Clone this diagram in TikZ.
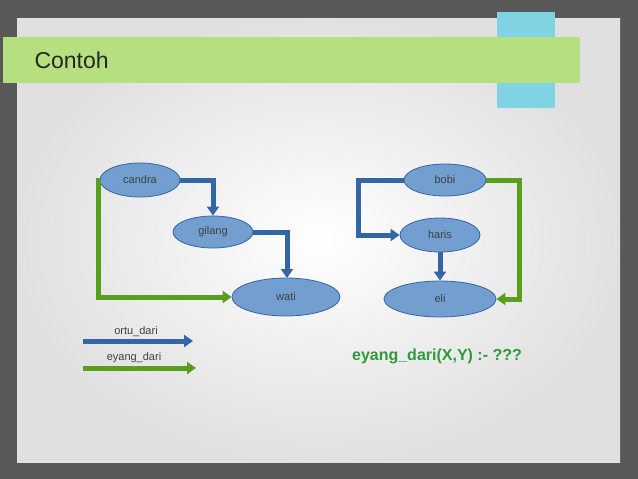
\documentclass[tikz,border=0pt]{standalone}
\usepackage{fontspec}
\setmainfont{Liberation Sans}
\usetikzlibrary{shapes.geometric,arrows.meta}
\definecolor{nodefill}{HTML}{729FCF}
\definecolor{nodeline}{HTML}{3465A4}
\definecolor{bluearr}{HTML}{3465A4}
\definecolor{greenarr}{HTML}{5A9E1E}
\definecolor{rulegreen}{HTML}{2E9A3A}
\definecolor{titlebar}{HTML}{B6E07F}
\definecolor{cyanbox}{HTML}{7FD3E3}
\tikzset{
 person/.style={ellipse,draw=nodeline,fill=nodefill,line width=0.8pt,inner sep=0pt,text=black!75,font=\fontsize{11}{13}\selectfont},
 ortu/.style={draw=bluearr,line width=5pt,-{Triangle[length=9pt,width=12pt]}},
 eyang/.style={draw=greenarr,line width=5pt,-{Triangle[length=9pt,width=12pt]}},
}
\begin{document}
\begin{tikzpicture}[x=1pt,y=-1pt]
\useasboundingbox (0,0) rectangle (638,479);
\fill[black!65] (0,0) rectangle (638,479);
\shade[inner color=white,outer color=black!12] (17,18) rectangle (620,462);
\fill[cyanbox] (497,12) rectangle (555,108);
\fill[titlebar] (3,37) rectangle (580,83);
\node[anchor=west,text=black!85,font=\fontsize{23}{27}\selectfont] (title) at (31,60) {Contoh};
\node[person,minimum width=80,minimum height=34] (candra) at (140,180) {candra};
\node[person,minimum width=80,minimum height=32] (gilang) at (213,232) {gilang};
\node[person,minimum width=108,minimum height=38] (wati) at (286,297) {wati};
\node[person,minimum width=82,minimum height=32] (bobi) at (445,180) {bobi};
\node[person,minimum width=80,minimum height=34] (haris) at (440,235) {haris};
\node[person,minimum width=112,minimum height=36] (eli) at (440,299) {eli};
\draw[eyang] (candra.west) -- (98,180) -- (98,297) -- (wati.west);
\draw[eyang] (bobi.east) -- (519,180) -- (519,299) -- (eli.east);
\draw[ortu] (candra.east) -- (213,180) -- (gilang.north);
\draw[ortu] (gilang.east) -- (287,232) -- (287,278);
\draw[ortu] (bobi.west) -- (358,180) -- (358,235) -- (haris.west);
\draw[ortu] (haris.south) -- (eli.north);
\coordinate (l1a) at (83,341); \coordinate (l1b) at (193,341);
\coordinate (l2a) at (83,368); \coordinate (l2b) at (196,368);
\draw[ortu] (l1a) -- (l1b);
\draw[eyang] (l2a) -- (l2b);
\node[text=black!75,font=\fontsize{11}{13}\selectfont] (lab1) at (136,332) {ortu\_dari};
\node[text=black!75,font=\fontsize{11}{13}\selectfont] (lab2) at (134,358) {eyang\_dari};
\node[font=\bfseries\fontsize{16}{19}\selectfont,text=rulegreen] (rule) at (437,356) {eyang\_dari(X,Y) :- ???};
\end{tikzpicture}
\end{document}
